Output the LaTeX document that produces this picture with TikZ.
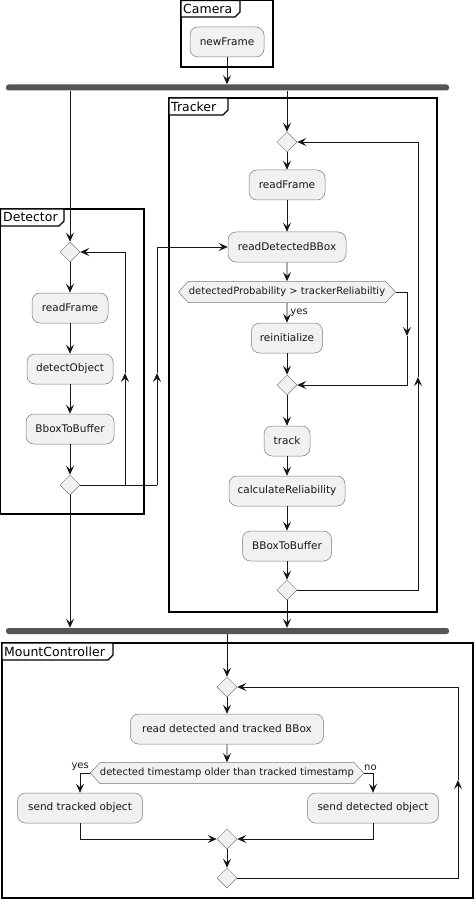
\documentclass[tikz,border=0pt]{standalone}
\usepackage{fontspec}
\setmainfont{DejaVu Sans}
\usetikzlibrary{shapes.geometric,shapes.symbols,arrows.meta}
\definecolor{actfill}{HTML}{F1F1F1}
\definecolor{actline}{HTML}{7A7A7A}
\definecolor{barcol}{HTML}{555555}
\definecolor{ink}{HTML}{181818}
\begin{document}
\begin{tikzpicture}[x=1pt,y=-1pt,
  act/.style={draw=actline, fill=actfill, line width=0.5pt, rounded corners=8pt, minimum height=30pt, inner sep=0pt, text=ink, font=\fontsize{10.5}{12}\selectfont},
  dec/.style={diamond, aspect=1, draw=actline, fill=actfill, line width=0.5pt, minimum size=20pt, inner sep=0pt},
  hex/.style={signal, signal to=east and west, signal pointer angle=95, draw=actline, fill=actfill, line width=0.5pt, minimum height=21pt, inner sep=0pt, text=ink, font=\fontsize{10}{12}\selectfont},
  flow/.style={draw=ink, line width=0.9pt, -{Stealth[length=9pt,width=8pt,inset=3.5pt]}},
  plain/.style={draw=ink, line width=0.9pt},
  frm/.style={draw=black, line width=1.2pt},
  tab/.style={draw=black, line width=1.2pt, fill=white},
  tablbl/.style={anchor=west, inner sep=0pt, text=black, font=\fontsize{12.5}{14}\selectfont},
  bar/.style={fill=barcol, rounded corners=2.5pt, minimum width=443pt, minimum height=6pt, inner sep=0pt},
  lbl/.style={inner sep=0pt, text=ink, font=\fontsize{10}{12}\selectfont}
]
\useasboundingbox (0,0) rectangle (474,901);

% ---------- frames ----------
\draw[frm] (181,0.6) rectangle (273,67);
\draw[tab] (181,0.6) -- (240,0.6) -- (240,12) -- (235,17) -- (181,17) -- cycle;
\node[tablbl] (camlbl) at (183,9) {Camera};

\draw[frm] (169,98) rectangle (437,612);
\draw[tab] (169,98) -- (228,98) -- (228,110) -- (223,115) -- (169,115) -- cycle;
\node[tablbl] (trklbl) at (171,106.5) {Tracker};

\draw[frm] (0.6,209) rectangle (144,514);
\draw[tab] (0.6,209) -- (64,209) -- (64,221) -- (59,226) -- (0.6,226) -- cycle;
\node[tablbl] (detlbl) at (3,217.5) {Detector};

\draw[frm] (2,643) rectangle (473,898);
\draw[tab] (2,643) -- (113,643) -- (113,655) -- (108,660) -- (2,660) -- cycle;
\node[tablbl] (mntlbl) at (4,651.5) {MountController};

% ---------- bars ----------
\node[bar] (bar1) at (227.5,87.5) {};
\node[bar] (bar2) at (227.5,631) {};

% ---------- camera ----------
\node[act, minimum width=74pt] (newframe) at (227,42) {newFrame};

% ---------- detector ----------
\node[dec] (ddia1) at (70,252) {};
\node[act, minimum width=76pt] (dread) at (70,308) {readFrame};
\node[act, minimum width=86pt] (ddetect) at (70,369) {detectObject};
\node[act, minimum width=88pt] (dbuf) at (70,429) {BboxToBuffer};
\node[dec] (ddia2) at (70,485) {};

% ---------- tracker ----------
\node[dec] (tdia1) at (287,142) {};
\node[act, minimum width=76pt] (tread1) at (287,185) {readFrame};
\node[act, minimum width=118pt] (tread2) at (287,247) {readDetectedBBox};
\node[hex, minimum width=217pt] (thex) at (287,292) {detectedProbability > trackerReliabiltiy};
\node[act, minimum width=71pt] (treinit) at (287,338) {reinitialize};
\node[dec] (tdia2) at (287,385) {};
\node[act, minimum width=46pt] (ttrack) at (287,441) {track};
\node[act, minimum width=116pt] (tcalc) at (287,491) {calculateReliability};
\node[act, minimum width=89pt] (tbuf) at (287,546) {BBoxToBuffer};
\node[dec] (tdia3) at (287,590) {};

% ---------- mount controller ----------
\node[dec] (mdia1) at (227,687) {};
\node[act, minimum width=193pt] (mread) at (227,729) {read detected and tracked BBox};
\node[hex, minimum width=273pt] (mhex) at (227,773) {detected timestamp older than tracked timestamp};
\node[act, minimum width=125pt] (mtracked) at (80,808) {send tracked object};
\node[act, minimum width=131pt] (mdetected) at (373,808) {send detected object};
\node[dec] (mdia2) at (227,839) {};
\node[dec] (mdia3) at (227,878) {};

% ---------- connectors ----------
\draw[flow] (newframe) -- (newframe |- bar1.north);
\draw[flow] (bar1.south -| ddia1) -- (ddia1);
\draw[flow] (bar1.south -| tdia1) -- (tdia1);

% detector chain
\draw[flow] (ddia1) -- (dread);
\draw[flow] (dread) -- (ddetect);
\draw[flow] (ddetect) -- (dbuf);
\draw[flow] (dbuf) -- (ddia2);
\draw[flow] (ddia2) -- (ddia2 |- bar2.north);
\coordinate (dl1) at (125,485);
\coordinate (dl2) at (125,373);
\coordinate (dl3) at (125,252);
\draw[plain] (ddia2.east) -- (dl1);
\draw[flow] (dl1) -- (dl2);
\draw[flow] (dl2) -- (dl3) -- (ddia1.east);
\coordinate (dt1) at (157,485);
\coordinate (dt2) at (157,373);
\coordinate (dt3) at (157,247);
\draw[plain] (dl1) -- (dt1);
\draw[flow] (dt1) -- (dt2);
\draw[flow] (dt2) -- (dt3) -- (tread2.west);

% tracker chain
\draw[flow] (tdia1) -- (tread1);
\draw[flow] (tread1) -- (tread2);
\draw[flow] (tread2) -- (thex);
\draw[flow] (thex) -- node[lbl, anchor=west, xshift=3pt] (tyes) {yes} (treinit);
\draw[flow] (treinit) -- (tdia2);
\draw[flow] (tdia2) -- (ttrack);
\draw[flow] (ttrack) -- (tcalc);
\draw[flow] (tcalc) -- (tbuf);
\draw[flow] (tbuf) -- (tdia3);
\draw[flow] (tdia3) -- (tdia3 |- bar2.north);
\coordinate (th1) at (407,292);
\coordinate (th2) at (407,336);
\coordinate (th3) at (407,385);
\draw[flow] (thex.east) -- (th1) -- (th2);
\draw[flow] (th2) -- (th3) -- (tdia2.east);
\coordinate (tl1) at (418,590);
\coordinate (tl2) at (418,377);
\coordinate (tl3) at (418,142);
\draw[flow] (tdia3.east) -- (tl1) -- (tl2);
\draw[flow] (tl2) -- (tl3) -- (tdia1.east);

% mount controller chain
\draw[flow] (bar2.south -| mdia1) -- (mdia1);
\draw[flow] (mdia1) -- (mread);
\draw[flow] (mread) -- (mhex);
\coordinate (ml1) at (80,773);
\coordinate (mr1) at (373,773);
\draw[flow] (mhex.west) -- (ml1) -- (mtracked);
\draw[flow] (mhex.east) -- (mr1) -- (mdetected);
\node[lbl, anchor=south east] (myes) at (89,771) {yes};
\node[lbl, anchor=south west] (mno) at (364,771) {no};
\coordinate (ml2) at (80,839);
\coordinate (mr2) at (373,839);
\draw[flow] (mtracked) -- (ml2) -- (mdia2.west);
\draw[flow] (mdetected) -- (mr2) -- (mdia2.east);
\draw[flow] (mdia2) -- (mdia3);
\coordinate (mb1) at (458,878);
\coordinate (mb2) at (458,780);
\coordinate (mb3) at (458,687);
\draw[flow] (mdia3.east) -- (mb1) -- (mb2);
\draw[flow] (mb2) -- (mb3) -- (mdia1.east);
\end{tikzpicture}
\end{document}
